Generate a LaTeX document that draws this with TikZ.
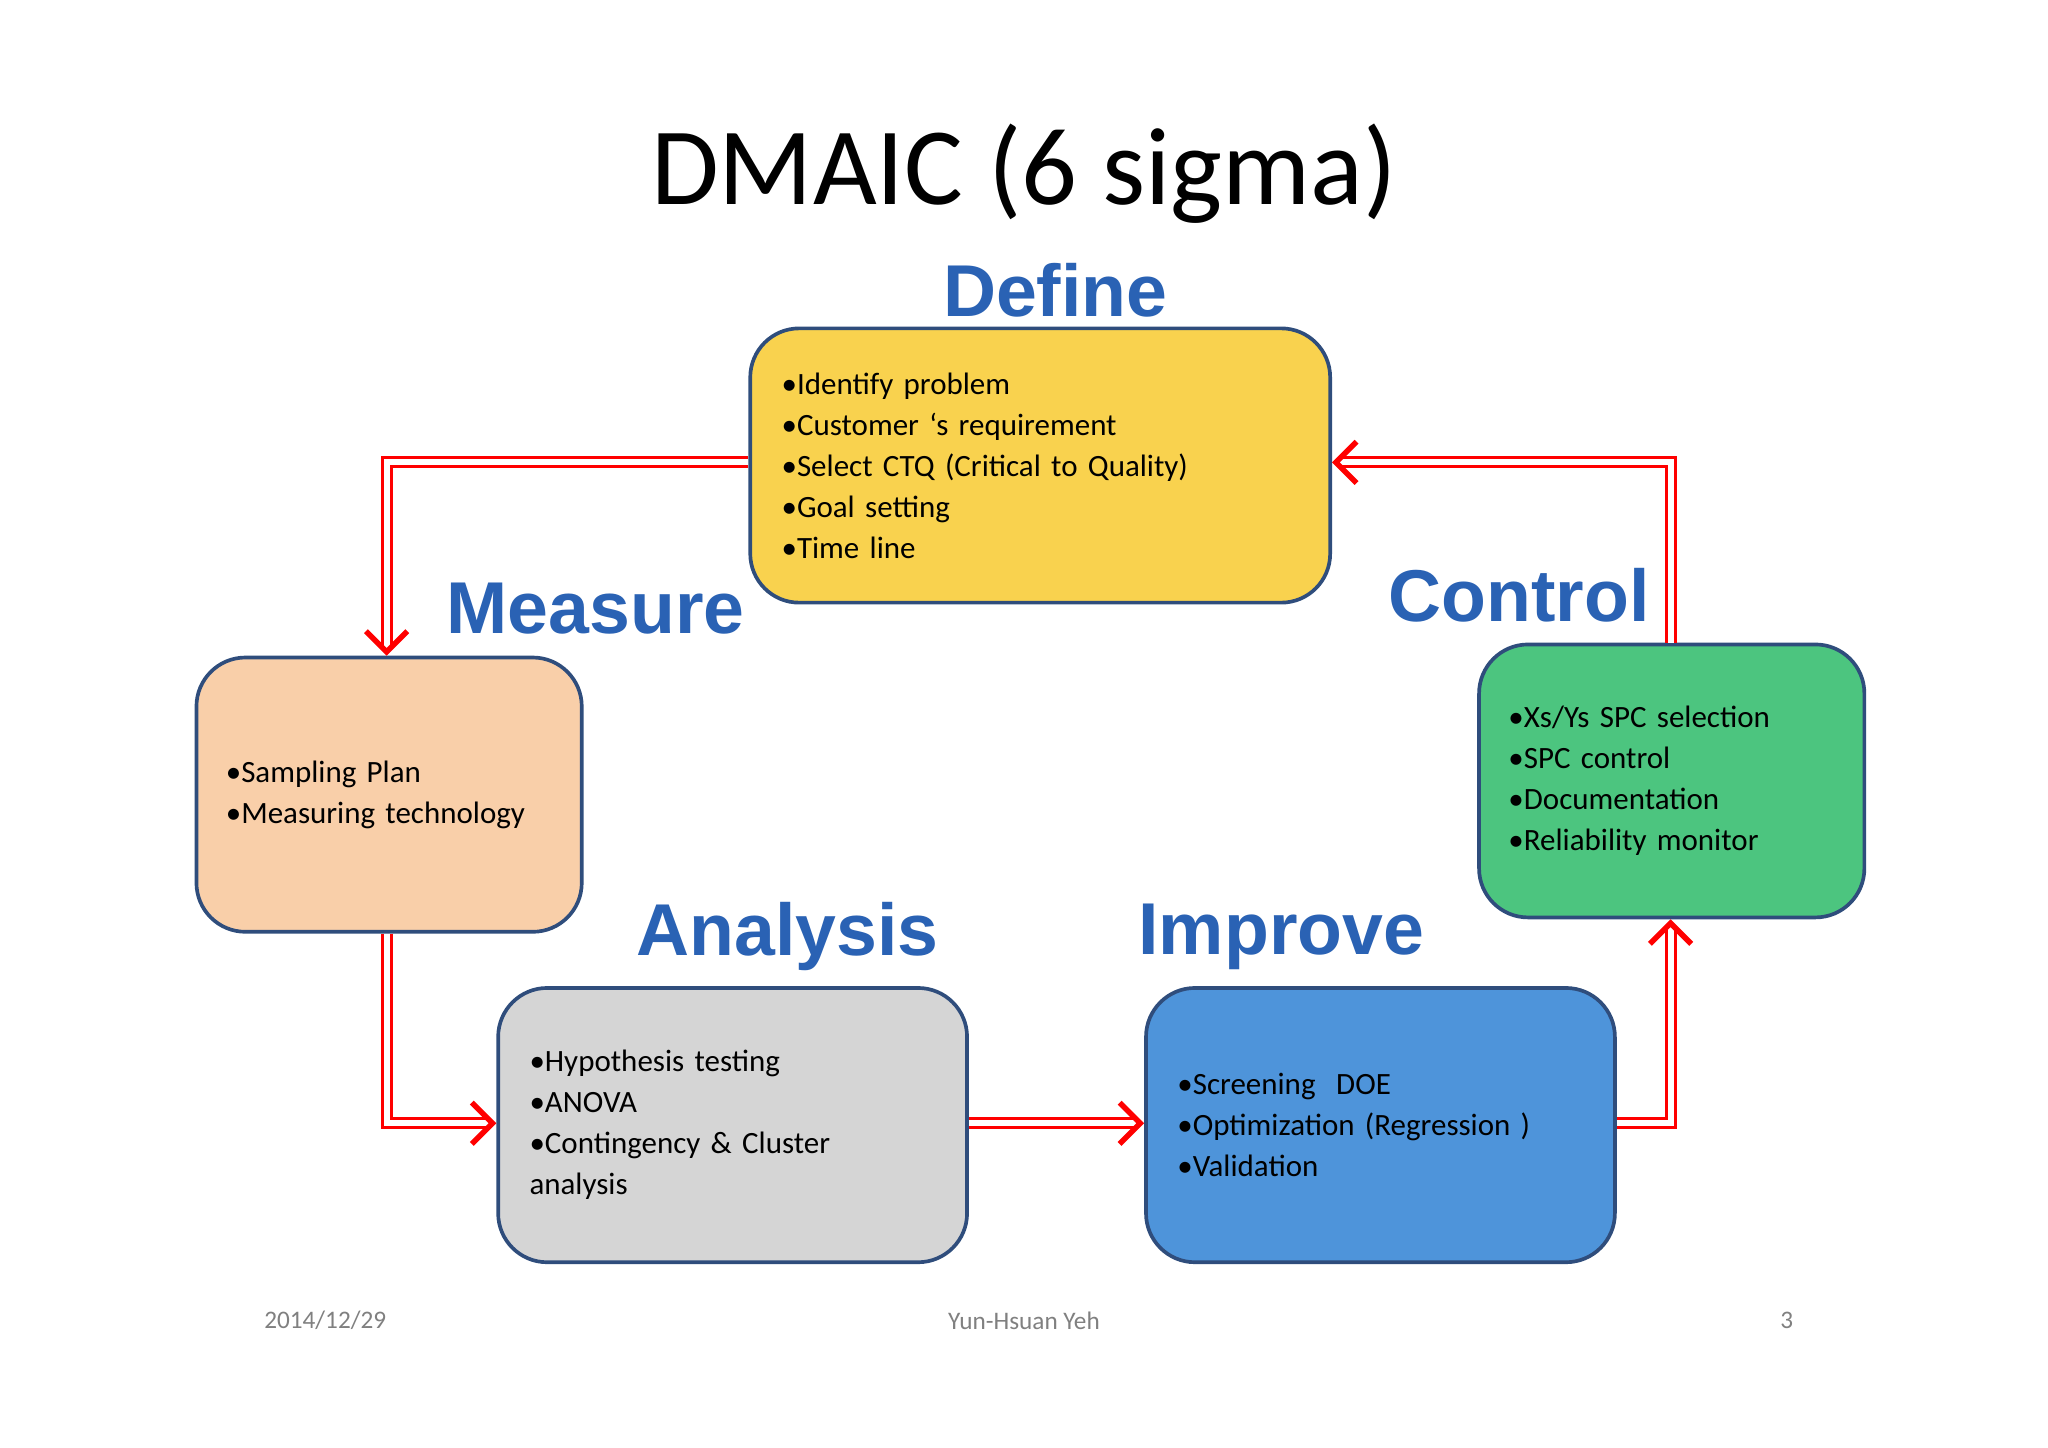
\documentclass[tikz,border=0pt]{standalone}
\usepackage{fontspec}
\setmainfont{Carlito}
\newfontfamily\headfont{Liberation Sans}
\usetikzlibrary{positioning,calc,arrows.meta}

\begin{document}
\begin{tikzpicture}[
    x=0.02cm,y=-0.02cm,
    every node/.style={inner sep=0pt},
    box/.style={draw=color6,line width=1.6pt,rounded corners=0.75cm,align=left,anchor=north west},
    phase/.style={font=\headfont\bfseries\fontsize{32}{34}\selectfont,text=color7},
    flow/.style={draw=red,line width=1.3pt,double=white,double distance=2.6pt,
                 -{Straight Barb[length=9pt,width=18pt,line width=2.4pt,color=red]}}
  ]
  \definecolor{color1}{HTML}{F9D24E}
  \definecolor{color2}{HTML}{F9CFA9}
  \definecolor{color3}{HTML}{D5D5D5}
  \definecolor{color4}{HTML}{4E94DA}
  \definecolor{color5}{HTML}{4CC57F}
  \definecolor{color6}{HTML}{2F4D7C}
  \definecolor{color7}{HTML}{2A62B4}

  \useasboundingbox[fill=white] (0,0) rectangle (1568,1108);
  \fontsize{13.5}{17.9}\selectfont

  \node[font=\fontsize{48}{50}\selectfont] (title) at (784,133) {DMAIC (6 sigma)};

  \node[box,fill=color1,minimum width=444*0.02cm,minimum height=210*0.02cm,text width=396*0.02cm] (define) at (573,250)
    {•Identify problem\\•Customer ‘s requirement\\•Select CTQ (Critical to Quality)\\•Goal setting\\•Time line};
  \node[box,fill=color2,minimum width=295*0.02cm,minimum height=210*0.02cm,text width=250*0.02cm] (measure) at (149,502)
    {•Sampling Plan\\•Measuring technology};
  \node[box,fill=color3,minimum width=359*0.02cm,minimum height=210*0.02cm,text width=311*0.02cm] (analysis) at (380,755)
    {•Hypothesis testing\\•ANOVA\\•Contingency \& Cluster\\analysis};
  \node[box,fill=color4,minimum width=359*0.02cm,minimum height=210*0.02cm,text width=311*0.02cm] (improve) at (876,755)
    {•Screening\ \ DOE\\•Optimization (Regression )\\•Validation};
  \node[box,fill=color5,minimum width=295*0.02cm,minimum height=209*0.02cm,text width=250*0.02cm] (control) at (1131,492)
    {•Xs/Ys SPC selection\\•SPC control\\•Documentation\\•Reliability monitor};

  \node[phase] (define-t)   at (808,222)  {Define};
  \node[phase] (measure-t)  at (456,466)  {Measure};
  \node[phase] (analysis-t) at (603,717)  {Analysis};
  \node[phase] (improve-t)  at (981,717)  {Improve};
  \node[phase] (control-t)  at (1163,456) {Control};

  \coordinate (c1) at (296,354);
  \coordinate (c2) at (296,860);
  \coordinate (c3) at (1279,860);
  \coordinate (c4) at (1279,354);
  \draw[flow] (define.west |- c1) -- (c1) -- (measure.north -| c1);
  \draw[flow] (measure.south -| c2) -- (c2) -- (analysis.west |- c2);
  \draw[flow] (analysis.east |- c2) -- (improve.west |- c2);
  \draw[flow] (improve.east |- c3) -- (c3) -- (control.south -| c3);
  \draw[flow] (control.north -| c4) -- (c4) -- (define.east |- c4);

  \node[text=gray,font=\fontsize{11}{13}\selectfont] (date)   at (249,1011)  {2014/12/29};
  \node[text=gray,font=\fontsize{11}{13}\selectfont] (author) at (784,1011)  {Yun-Hsuan Yeh};
  \node[text=gray,font=\fontsize{11}{13}\selectfont] (page)   at (1368,1011) {3};
\end{tikzpicture}
\end{document}
